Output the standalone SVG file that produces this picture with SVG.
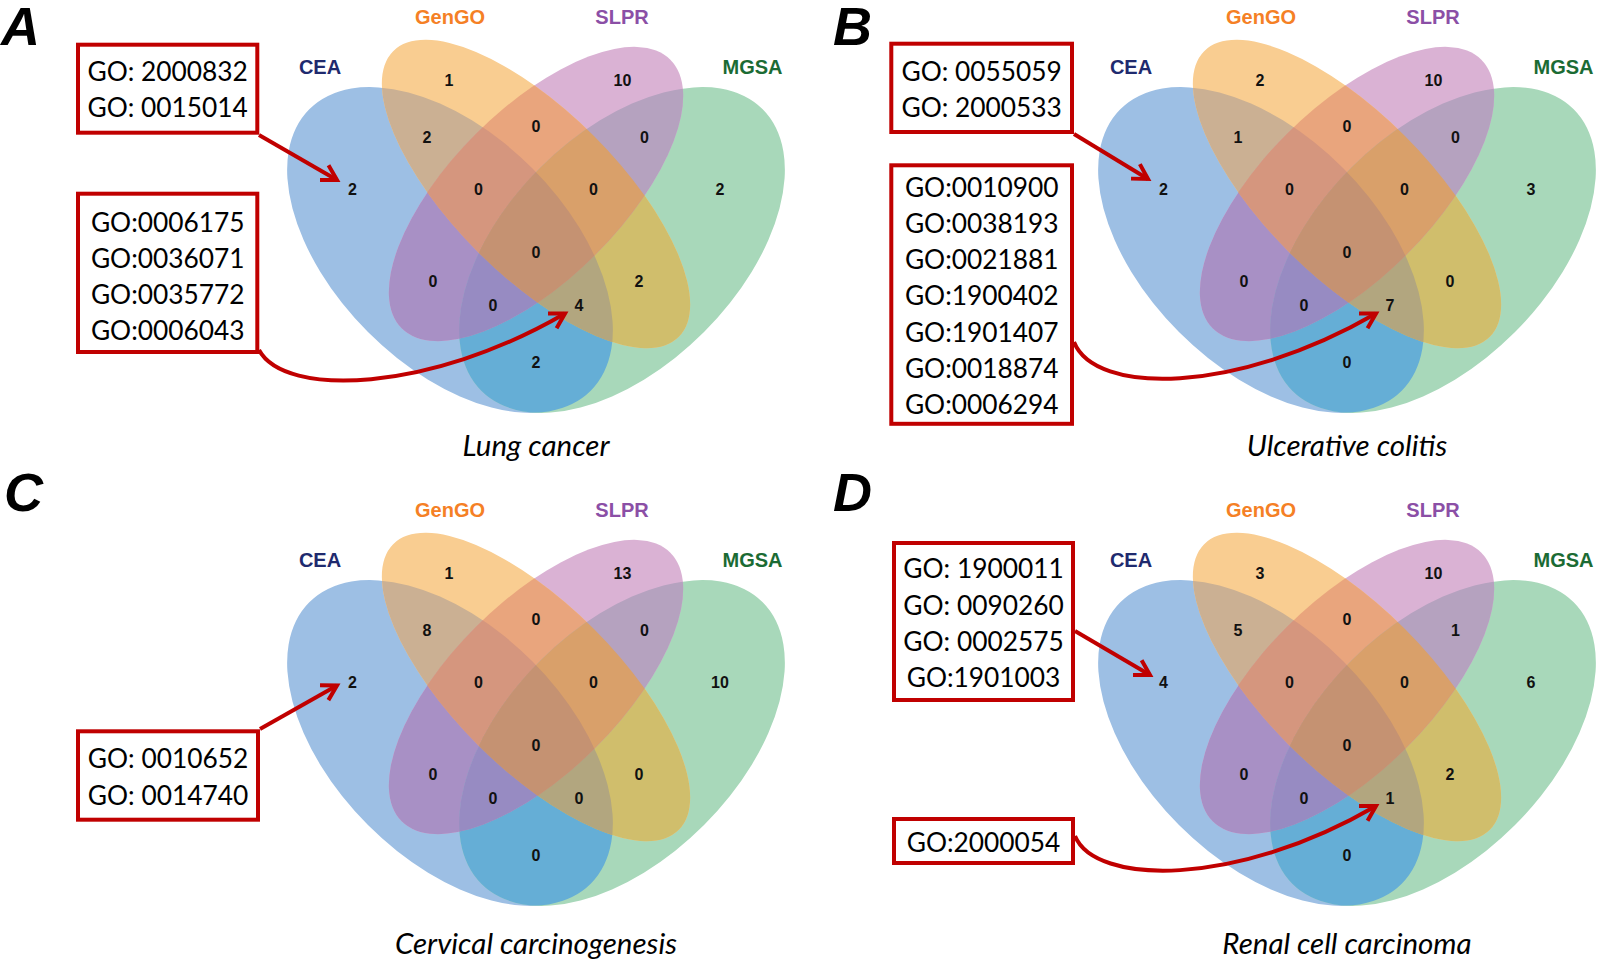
<svg xmlns="http://www.w3.org/2000/svg" width="1601" height="961" viewBox="0 0 1601 961">
<style>
.n{font-family:"Liberation Sans",Arial,sans-serif;font-weight:bold;font-size:16px;text-anchor:middle;fill:#111}
.lb{font-family:"Liberation Sans",Arial,sans-serif;font-weight:bold;font-size:20px;text-anchor:middle}
.go{font-family:Lato,"Open Sans",sans-serif;font-size:26.3px;text-anchor:middle;fill:#000}
.cap{font-family:Lato,"Open Sans",sans-serif;font-style:italic;font-size:29.5px;text-anchor:middle;fill:#000}
.pl{font-family:"Liberation Sans",Arial,sans-serif;font-weight:bold;font-style:italic;font-size:54px;fill:#000}
.box{fill:#fff;stroke:#C00000;stroke-width:4}
.arr{fill:none;stroke:#C00000;stroke-width:4;marker-end:url(#ah)}
</style>
<defs>
<marker id="ah" markerUnits="userSpaceOnUse" orient="auto" overflow="visible" refX="0" refY="0" markerWidth="1" markerHeight="1">
<path d="M-14.7,-8.5 L0,0 L-14.7,8.5" fill="none" stroke="#C00000" stroke-width="4"/>
</marker>
<ellipse id="eC" cx="450" cy="250" rx="199" ry="116" transform="rotate(45 450 250)"/>
<ellipse id="eG" cx="536" cy="194" rx="202" ry="82" transform="rotate(45 536 194)"/>
<ellipse id="eS" cx="536" cy="194" rx="190" ry="85" transform="rotate(-45 536 194)"/>
<ellipse id="eM" cx="622" cy="250" rx="199" ry="116" transform="rotate(-45 622 250)"/>
<clipPath id="kC"><use href="#eC"/></clipPath>
<clipPath id="kG"><use href="#eG"/></clipPath>
<clipPath id="kS"><use href="#eS"/></clipPath>
<clipPath id="kM"><use href="#eM"/></clipPath>
<g id="venn">
<use href="#eC" fill="#9DBFE4"/>
<use href="#eM" fill="#A8D8BA"/>
<use href="#eS" fill="#DAB2D4"/>
<use href="#eG" fill="#F9CD91"/>
<g clip-path="url(#kC)"><use href="#eG" fill="#CBB093"/></g>
<g clip-path="url(#kC)"><use href="#eS" fill="#A890C5"/></g>
<g clip-path="url(#kC)"><use href="#eM" fill="#65AED6"/></g>
<g clip-path="url(#kG)"><use href="#eS" fill="#E9A57D"/></g>
<g clip-path="url(#kG)"><use href="#eM" fill="#D0BE6C"/></g>
<g clip-path="url(#kS)"><use href="#eM" fill="#B5A2BF"/></g>
<g clip-path="url(#kC)"><g clip-path="url(#kG)"><use href="#eS" fill="#D5967E"/></g></g>
<g clip-path="url(#kC)"><g clip-path="url(#kG)"><use href="#eM" fill="#B2A67F"/></g></g>
<g clip-path="url(#kC)"><g clip-path="url(#kS)"><use href="#eM" fill="#978BC2"/></g></g>
<g clip-path="url(#kG)"><g clip-path="url(#kS)"><use href="#eM" fill="#D9A06A"/></g></g>
<g clip-path="url(#kC)"><g clip-path="url(#kG)"><g clip-path="url(#kS)"><use href="#eM" fill="#C59272"/></g></g></g>
<text class="lb" x="320" y="74.3" fill="#1F2A6E">CEA</text>
<text class="lb" x="450" y="24" fill="#F58025">GenGO</text>
<text class="lb" x="622" y="24" fill="#8B4FA6">SLPR</text>
<text class="lb" x="752.5" y="74.3" fill="#1B6B34">MGSA</text>
</g>
</defs>

<g id="venn-A">
<use href="#venn"/>
<g class="counts">
<text class="n" x="449" y="86.4">1</text>
<text class="n" x="622.5" y="86.4">10</text>
<text class="n" x="427" y="143">2</text>
<text class="n" x="536" y="132">0</text>
<text class="n" x="644.5" y="143">0</text>
<text class="n" x="352.5" y="195">2</text>
<text class="n" x="478.5" y="195">0</text>
<text class="n" x="593.5" y="195">0</text>
<text class="n" x="720" y="195">2</text>
<text class="n" x="536" y="258">0</text>
<text class="n" x="433" y="287">0</text>
<text class="n" x="639" y="287">2</text>
<text class="n" x="493" y="310.5">0</text>
<text class="n" x="579" y="310.5">4</text>
<text class="n" x="536" y="367.5">2</text>
</g>
<text class="cap" x="536" y="455.5">Lung cancer</text>
</g>

<g id="venn-B" transform="translate(811,0)">
<use href="#venn"/>
<g class="counts">
<text class="n" x="449" y="86.4">2</text>
<text class="n" x="622.5" y="86.4">10</text>
<text class="n" x="427" y="143">1</text>
<text class="n" x="536" y="132">0</text>
<text class="n" x="644.5" y="143">0</text>
<text class="n" x="352.5" y="195">2</text>
<text class="n" x="478.5" y="195">0</text>
<text class="n" x="593.5" y="195">0</text>
<text class="n" x="720" y="195">3</text>
<text class="n" x="536" y="258">0</text>
<text class="n" x="433" y="287">0</text>
<text class="n" x="639" y="287">0</text>
<text class="n" x="493" y="310.5">0</text>
<text class="n" x="579" y="310.5">7</text>
<text class="n" x="536" y="367.5">0</text>
</g>
<text class="cap" x="536" y="455.5">Ulcerative colitis</text>
</g>

<g id="venn-C" transform="translate(0,493)">
<use href="#venn"/>
<g class="counts">
<text class="n" x="449" y="86.4">1</text>
<text class="n" x="622.5" y="86.4">13</text>
<text class="n" x="427" y="143">8</text>
<text class="n" x="536" y="132">0</text>
<text class="n" x="644.5" y="143">0</text>
<text class="n" x="352.5" y="195">2</text>
<text class="n" x="478.5" y="195">0</text>
<text class="n" x="593.5" y="195">0</text>
<text class="n" x="720" y="195">10</text>
<text class="n" x="536" y="258">0</text>
<text class="n" x="433" y="287">0</text>
<text class="n" x="639" y="287">0</text>
<text class="n" x="493" y="310.5">0</text>
<text class="n" x="579" y="310.5">0</text>
<text class="n" x="536" y="367.5">0</text>
</g>
<text class="cap" x="536" y="461">Cervical carcinogenesis</text>
</g>

<g id="venn-D" transform="translate(811,493)">
<use href="#venn"/>
<g class="counts">
<text class="n" x="449" y="86.4">3</text>
<text class="n" x="622.5" y="86.4">10</text>
<text class="n" x="427" y="143">5</text>
<text class="n" x="536" y="132">0</text>
<text class="n" x="644.5" y="143">1</text>
<text class="n" x="352.5" y="195">4</text>
<text class="n" x="478.5" y="195">0</text>
<text class="n" x="593.5" y="195">0</text>
<text class="n" x="720" y="195">6</text>
<text class="n" x="536" y="258">0</text>
<text class="n" x="433" y="287">0</text>
<text class="n" x="639" y="287">2</text>
<text class="n" x="493" y="310.5">0</text>
<text class="n" x="579" y="310.5">1</text>
<text class="n" x="536" y="367.5">0</text>
</g>
<text class="cap" x="536" y="461">Renal cell carcinoma</text>
</g>

<g id="panel-letters">
<text class="pl" x="1" y="45">A</text>
<text class="pl" x="833" y="45">B</text>
<text class="pl" x="4" y="511">C</text>
<text class="pl" x="833" y="511">D</text>
</g>

<g id="box-A1">
<rect class="box" x="78" y="44.7" width="179.3" height="88"/>
<text class="go" x="167.7" y="81">GO: 2000832</text>
<text class="go" x="167.7" y="117.3">GO: 0015014</text>
</g>
<g id="box-A2">
<rect class="box" x="78" y="193.7" width="179.3" height="158.3"/>
<text class="go" x="167.7" y="231.7">GO:0006175</text>
<text class="go" x="167.7" y="267.7">GO:0036071</text>
<text class="go" x="167.7" y="304">GO:0035772</text>
<text class="go" x="167.7" y="340">GO:0006043</text>
</g>
<g id="box-B1">
<rect class="box" x="891.3" y="43.7" width="180.7" height="88.3"/>
<text class="go" x="981.7" y="81">GO: 0055059</text>
<text class="go" x="981.7" y="117">GO: 2000533</text>
</g>
<g id="box-B2">
<rect class="box" x="891.3" y="165.3" width="180.7" height="258.5"/>
<text class="go" x="981.7" y="196.7">GO:0010900</text>
<text class="go" x="981.7" y="232.9">GO:0038193</text>
<text class="go" x="981.7" y="269.1">GO:0021881</text>
<text class="go" x="981.7" y="305.3">GO:1900402</text>
<text class="go" x="981.7" y="341.5">GO:1901407</text>
<text class="go" x="981.7" y="377.7">GO:0018874</text>
<text class="go" x="981.7" y="413.9">GO:0006294</text>
</g>
<g id="box-C1">
<rect class="box" x="78" y="731.3" width="180" height="88.4"/>
<text class="go" x="168" y="768.3">GO: 0010652</text>
<text class="go" x="168" y="805">GO: 0014740</text>
</g>
<g id="box-D1">
<rect class="box" x="894" y="543" width="179" height="157"/>
<text class="go" x="983.5" y="578.3">GO: 1900011</text>
<text class="go" x="983.5" y="614.8">GO: 0090260</text>
<text class="go" x="983.5" y="651">GO: 0002575</text>
<text class="go" x="983.5" y="687.4">GO:1901003</text>
</g>
<g id="box-D2">
<rect class="box" x="894" y="819" width="179" height="44"/>
<text class="go" x="983.5" y="851.5">GO:2000054</text>
</g>

<g id="connectors">
<path class="arr" d="M259,135 L337,180"/>
<path class="arr" d="M259,350 C285,398 430,392 565,313.5"/>
<path class="arr" d="M1074,134 L1148,179"/>
<path class="arr" d="M1074,342 C1095,395 1235,395 1376,313.5"/>
<path class="arr" d="M260,729 L337,685.5"/>
<path class="arr" d="M1075,631 L1150,675"/>
<path class="arr" d="M1075,836 C1095,885 1235,888 1376,806"/>
</g>
</svg>
